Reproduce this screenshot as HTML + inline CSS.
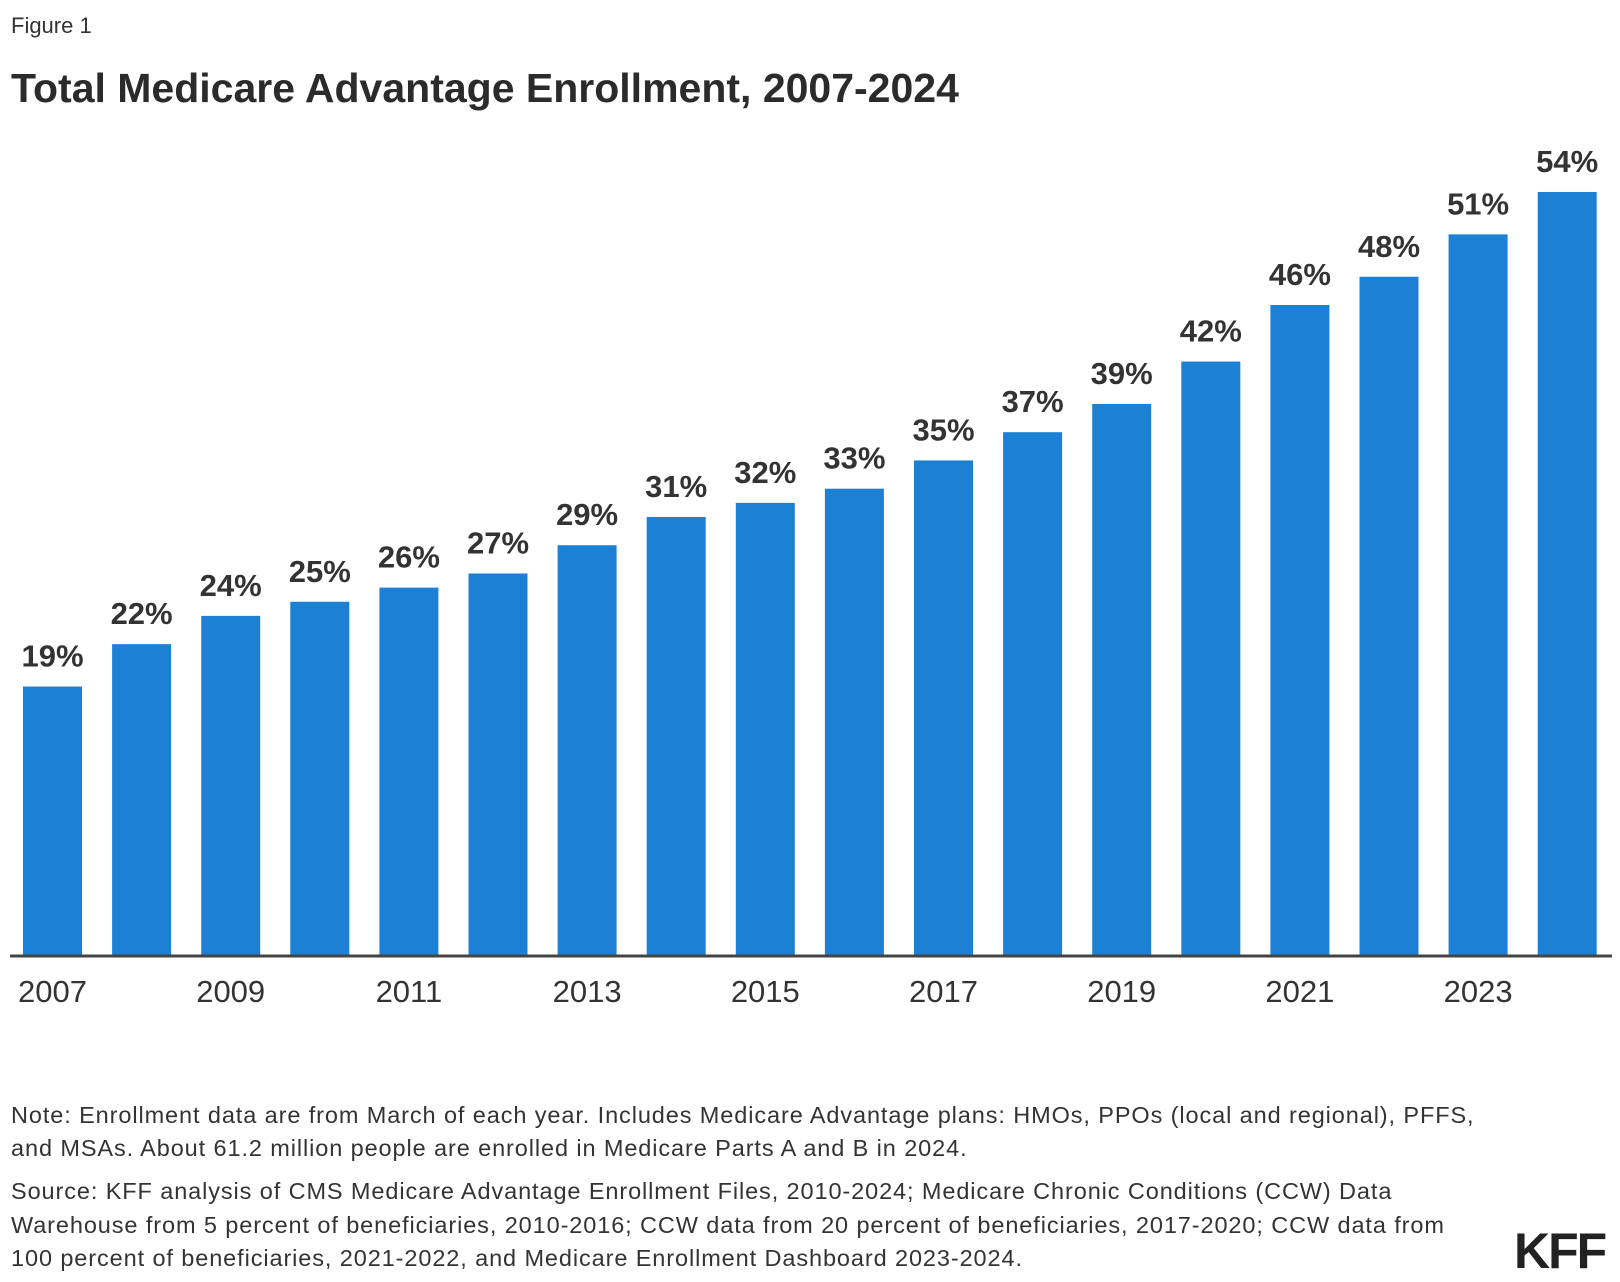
<!DOCTYPE html>
<html><head><meta charset="utf-8"><style>
body{margin:0;background:#fff;font-family:"Liberation Sans",sans-serif;color:#333;}
#wrap{position:relative;width:1620px;height:1282px;overflow:hidden;}
.t{position:absolute;white-space:nowrap;}
</style></head><body>
<div id="wrap">
<div class="t" style="left:11px;top:13px;font-size:22px;">Figure 1</div>
<div class="t" style="left:11px;top:65px;font-size:41px;font-weight:bold;color:#2b2b2b;">Total Medicare Advantage Enrollment, 2007-2024</div>
<svg id="chart" width="1620" height="1060" style="position:absolute;left:0;top:0"></svg>
<div class="t" style="left:11px;top:1099px;font-size:23.5px;letter-spacing:0.9px;line-height:33px;">Note: Enrollment data are from March of each year. Includes Medicare Advantage plans: HMOs, PPOs (local and regional), PFFS,<br>and MSAs. About 61.2 million people are enrolled in Medicare Parts A and B in 2024.</div>
<div class="t" style="left:11px;top:1175px;font-size:23.5px;letter-spacing:0.9px;line-height:33.5px;">Source: KFF analysis of CMS Medicare Advantage Enrollment Files, 2010-2024; Medicare Chronic Conditions (CCW) Data<br>Warehouse from 5 percent of beneficiaries, 2010-2016; CCW data from 20 percent of beneficiaries, 2017-2020; CCW data from<br>100 percent of beneficiaries, 2021-2022, and Medicare Enrollment Dashboard 2023-2024.</div>
<div class="t" style="left:1514px;top:1222px;font-size:50px;font-weight:bold;color:#222;letter-spacing:-2px;">KFF</div>
</div>
<script>
const years=[2007,2008,2009,2010,2011,2012,2013,2014,2015,2016,2017,2018,2019,2020,2021,2022,2023,2024];
const values=[19,22,24,25,26,27,29,31,32,33,35,37,39,42,46,48,51,54];
const tickYears=[2007,2009,2011,2013,2015,2017,2019,2021,2023];
const NS="http://www.w3.org/2000/svg";
const svg=document.getElementById('chart');
const x0=23,pitch=89.1,bw=59,base=955,k=14.13;
const xs=i=>x0+i*pitch;
const ys=v=>base-v*k;
function mk(t,a){const e=document.createElementNS(NS,t);for(const n in a)e.setAttribute(n,a[n]);svg.appendChild(e);return e;}
values.forEach((v,i)=>{
 const r=mk('rect',{x:xs(i),y:ys(v),width:bw,height:v*k,fill:'#1c80d5'});
 
 
 const t=mk('text',{x:xs(i)+bw/2,y:ys(v)-20,'text-anchor':'middle','font-size':31,'font-weight':'bold',fill:'#333','font-family':'Liberation Sans'});
 t.textContent=v+'%';
 
 
});
const ax=mk('line',{x1:10,x2:1612,y1:base+1,y2:base+1,stroke:'#444','stroke-width':3});


tickYears.forEach(y=>{
 const i=years.indexOf(y);
 const t=mk('text',{x:xs(i)+bw/2,y:1002,'text-anchor':'middle','font-size':31,fill:'#333','font-family':'Liberation Sans'});
 t.textContent=y;
 
 
});
</script>
</body></html>
